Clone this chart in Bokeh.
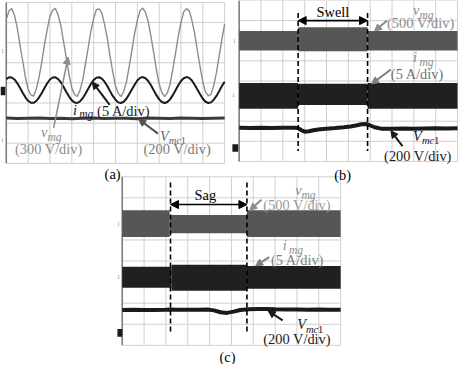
import numpy as np
from bokeh.plotting import figure
from bokeh.models import Range1d, Arrow, NormalHead
from bokeh.core.properties import value
from bokeh.embed import file_html
from bokeh.resources import INLINE

# ------------------------------------------------------------------ data
# all traces in oscilloscope divisions: time 0..10 div, amplitude -4..+4 div

# (a) steady state: v_mg (300 V/div), i_mg (5 A/div), V_mc1 (200 V/div)
a_vmg = [3.15, 3.58, 3.70, 3.36, 2.74, 1.90, 1.10, 0.28, -0.32, -0.60, -0.66,
         -0.30, 0.29, 1.03, 1.91, 2.66, 3.32, 3.62, 3.70, 3.37, 2.84, 2.03,
         1.23, 0.40, -0.24, -0.58, -0.68, -0.37, 0.15, 0.93, 1.74, 2.58, 3.20,
         3.64, 3.68, 3.47, 2.91, 2.21, 1.33, 0.55, -0.15, -0.52, -0.68, -0.43,
         0.04, 0.80, 1.60, 2.46, 3.11, 3.59, 3.72, 3.50, 3.05, 2.30, 1.50,
         0.64, -0.05, -0.49, -0.68, -0.49, -0.06, 0.67, 1.47, 2.33, 3.01,
         3.54, 3.69, 3.58, 3.11, 2.46, 1.61, 0.80, 0.04, -0.46, -0.64, -0.57,
         -0.12, 0.52, 1.36, 2.17, 2.93]
a_img = [0.19, 0.28, 0.27, 0.17, -0.01, -0.24, -0.49, -0.72, -0.89, -0.99,
         -0.99, -0.90, -0.72, -0.50, -0.25, -0.02, 0.17, 0.27, 0.28, 0.19,
         0.03, -0.20, -0.45, -0.68, -0.87, -0.98, -1.00, -0.92, -0.76, -0.54,
         -0.29, -0.05, 0.14, 0.26, 0.28, 0.21, 0.06, -0.16, -0.41, -0.65,
         -0.84, -0.97, -1.00, -0.94, -0.79, -0.57, -0.33, -0.09, 0.12, 0.25,
         0.29, 0.23, 0.09, -0.12, -0.37, -0.61, -0.82, -0.95, -1.00, -0.95,
         -0.82, -0.61, -0.37, -0.12, 0.09, 0.23, 0.29, 0.25, 0.12, -0.09,
         -0.33, -0.57, -0.79, -0.94, -1.00, -0.97, -0.84, -0.65, -0.41, -0.16,
         0.06]
a_vmc1 = [-1.75, -1.77, -1.76, -1.75, -1.77, -1.76, -1.78, -1.76, -1.75, -1.77,
          -1.76, -1.76, -1.78, -1.75, -1.76, -1.77, -1.75, -1.76, -1.77, -1.76,
          -1.75]

# (b) voltage swell between swell_t[0] and swell_t[1]
swell_t = [2.70, 5.88]
b_edges = [0.0, 2.70, 5.88, 10.0]
b_vmg_top = [2.48, 2.67, 2.48]
b_vmg_bot = [1.52, 1.48, 1.52]
b_img_top = [-0.10, -0.14, -0.10]
b_img_bot = [-1.38, -1.19, -1.38]
b_vmc1_t = [0, 0.5, 1, 1.5, 2, 2.5, 2.7, 2.85, 3.0, 3.2, 3.4, 3.7, 4.0, 4.4,
            4.8, 5.1, 5.4, 5.6, 5.8, 5.95, 6.2, 6.5, 7, 7.5, 8, 8.5, 9, 9.5, 10]
b_vmc1 = [-2.33, -2.34, -2.33, -2.34, -2.33, -2.33, -2.34, -2.45, -2.52, -2.50,
          -2.45, -2.40, -2.37, -2.34, -2.30, -2.26, -2.20, -2.15, -2.14, -2.19,
          -2.30, -2.37, -2.38, -2.36, -2.37, -2.36, -2.35, -2.36, -2.35]

# (c) voltage sag between sag_t[0] and sag_t[1]
sag_t = [2.21, 5.71]
c_vmg_edges = [0.0, 2.17, 5.71, 10.0]
c_vmg_top = [2.41, 2.18, 2.41]
c_vmg_bot = [1.14, 1.32, 1.14]
c_img_edges = [0.0, 2.26, 5.71, 10.0]
c_img_top = [-0.27, -0.18, -0.23]
c_img_bot = [-1.27, -1.41, -1.32]
c_vmc1_t = [0, 0.5, 1, 1.5, 2, 2.2, 2.5, 3, 3.5, 3.9, 4.2, 4.5, 4.8, 5.1, 5.4,
            5.8, 6.2, 6.6, 7, 7.5, 8, 8.5, 9, 9.5, 10]
c_vmc1 = [-2.32, -2.31, -2.32, -2.32, -2.31, -2.30, -2.31, -2.31, -2.31, -2.30,
          -2.34, -2.43, -2.46, -2.40, -2.32, -2.29, -2.28, -2.28, -2.29, -2.30,
          -2.30, -2.31, -2.30, -2.31, -2.31]

grid_x = list(range(0, 11))
grid_y = list(range(-4, 5))

# ------------------------------------------------------------------ layout
REF_W, REF_H = 474, 380
W, H = 458, 364
K = 0.96
SERIF = "Liberation Serif"

p = figure(width=W, height=H, x_range=Range1d(0, REF_W), y_range=Range1d(REF_H, 0),
           output_backend="svg", toolbar_location=None, x_axis_type=None,
           y_axis_type=None, min_border=0, outline_line_color=None,
           background_fill_color="white", border_fill_color="white")

# panel grid placement (left, right, top, bottom) in page units
panels = {"a": (6, 232, 2, 170), "b": (247, 473, 0, 168), "c": (126, 352, 184, 360)}
for name, (gx0, gx1, gy0, gy1) in panels.items():
    sx = (gx1 - gx0) / 10.0
    sy = (gy1 - gy0) / 8.0
    p.extra_x_ranges[name] = Range1d((0 - gx0) / sx, (REF_W - gx0) / sx)
    p.extra_y_ranges[name] = Range1d(4 - (REF_H - gy0) / sy, 4 + gy0 / sy)


def draw_grid(n):
    kw = dict(x_range_name=n, y_range_name=n)
    p.segment(x0=grid_x, y0=[-4] * len(grid_x), x1=grid_x, y1=[4] * len(grid_x),
              line_color="#cfcfcf", line_width=1, **kw)
    p.segment(x0=[0] * len(grid_y), y0=grid_y, x1=[10] * len(grid_y), y1=grid_y,
              line_color="#cfcfcf", line_width=1, **kw)
    p.segment(x0=[0], y0=[-4], x1=[0], y1=[4], line_color="#7a7a7a", line_width=1.5, **kw)


for n in panels:
    draw_grid(n)

# ---- traces (a)
a_t = np.linspace(0, 10, len(a_vmg))
a_t2 = np.linspace(0, 10, len(a_vmc1))
p.line(a_t, a_vmg, x_range_name="a", y_range_name="a", line_color="#8c8c8c", line_width=1.4)
p.line(a_t, a_img, x_range_name="a", y_range_name="a", line_color="#1a1a1a", line_width=2)
p.line(a_t2, a_vmc1, x_range_name="a", y_range_name="a", line_color="#3a3a3a", line_width=3)

# ---- traces (b)
p.quad(left=b_edges[:-1], right=b_edges[1:], top=b_vmg_top, bottom=b_vmg_bot,
       x_range_name="b", y_range_name="b", fill_color="#565656", line_color=None)
p.quad(left=b_edges[:-1], right=b_edges[1:], top=b_img_top, bottom=b_img_bot,
       x_range_name="b", y_range_name="b", fill_color="#202020", line_color=None)
p.line(b_vmc1_t, b_vmc1, x_range_name="b", y_range_name="b", line_color="#1a1a1a", line_width=4)

# ---- traces (c)
p.quad(left=c_vmg_edges[:-1], right=c_vmg_edges[1:], top=c_vmg_top, bottom=c_vmg_bot,
       x_range_name="c", y_range_name="c", fill_color="#565656", line_color=None)
p.quad(left=c_img_edges[:-1], right=c_img_edges[1:], top=c_img_top, bottom=c_img_bot,
       x_range_name="c", y_range_name="c", fill_color="#202020", line_color=None)
p.line(c_vmc1_t, c_vmc1, x_range_name="c", y_range_name="c", line_color="#1a1a1a", line_width=4)

# ---- event markers (dashed lines + double arrows)
for n, ev, y0, y1, ya in (("b", swell_t, 3.38, -3.48, 3.0), ("c", sag_t, 3.73, -3.45, 2.68)):
    p.segment(x0=ev, y0=[y0, y0], x1=ev, y1=[y1, y1], x_range_name=n, y_range_name=n,
              line_color="black", line_width=1.6, line_dash="5 3")
    p.add_layout(Arrow(start=NormalHead(size=8, fill_color="black", line_color="black"),
                       end=NormalHead(size=8, fill_color="black", line_color="black"),
                       x_start=ev[0], x_end=ev[1], y_start=ya, y_end=ya,
                       line_color="black", line_width=1.6, x_range_name=n, y_range_name=n))


# ------------------------------------------------------------------ text
def txt(x, y, s, color="black", size=15, italic=False, align="left"):
    p.text(x=[x], y=[y], text=[s], text_color=color, text_font=value(SERIF),
           text_font_size=f"{size * K:.1f}px",
           text_font_style="italic" if italic else "normal",
           text_align=align, text_baseline="middle")


def sub_label(x, y, main, sub, color, tail="", size=15, subsize=12):
    txt(x, y, main, color, size, italic=True)
    xs = x + 0.58 * size * (1.05 if main == "V" else 0.75)
    txt(xs, y + 5, sub, color, subsize, italic=True)
    if tail:
        txt(xs + 0.6 * subsize * len(sub) * 0.95, y + 5, tail, color, subsize)


def arrow(x0, y0, x1, y1, color, w=1.8):
    p.add_layout(Arrow(end=NormalHead(size=7, fill_color=color, line_color=color),
                       x_start=x0, y_start=y0, x_end=x1, y_end=y1,
                       line_color=color, line_width=w))


# panel (a)
sub_label(42, 137, "v", "mg", "#8c8c8c")
txt(15, 155, "(300 V/div)", "#8c8c8c")
arrow(55, 133, 70, 59, "#8c8c8c", 1.5)
sub_label(75, 114, "i", "mg", "#1a1a1a")
txt(100, 115, "(5 A/div)", "#1a1a1a")
arrow(113, 109, 95, 85, "#1a1a1a", 2)
sub_label(165, 141, "V", "mc", "#6a6a6a", "1", subsize=11)
txt(148, 155, "(200 V/div)", "#7a7a7a")
arrow(163, 139, 143, 124, "#505050", 2)
txt(116, 181, "(a)", "black", align="center")

# panel (b)
txt(344, 12, "Swell", "black", align="center")
sub_label(427, 10, "v", "mg", "#8c8c8c")
txt(400, 24, "(500 V/div)", "#8c8c8c")
arrow(400, 21, 387, 32, "#8c8c8c", 2)
sub_label(427, 59, "i", "mg", "#8c8c8c")
txt(404, 77, "(5 A/div)", "#707070")
arrow(404, 72, 384, 87, "#808080", 2)
sub_label(427, 141, "V", "mc", "#1a1a1a", "1", subsize=11)
txt(397, 162, "(200 V/div)", "#1a1a1a")
arrow(416, 152, 404, 136, "#1a1a1a", 2)
txt(354, 182, "(b)", "black", align="center")

# panel (c)
txt(212, 203, "Sag", "black", align="center")
sub_label(305, 198, "v", "mg", "#8c8c8c")
txt(272, 213, "(500 V/div)", "#9a9a9a")
arrow(270, 208, 258, 219, "#8c8c8c", 2)
sub_label(292, 255, "i", "mg", "#8c8c8c")
txt(280, 271, "(5 A/div)", "#808080")
arrow(278, 268, 264, 277, "#808080", 2)
sub_label(307, 338, "V", "mc", "#1a1a1a", "1", subsize=11)
txt(272, 353, "(200 V/div)", "#1a1a1a")
arrow(292, 334, 277, 324, "#1a1a1a", 2)
txt(235, 372, "(c)", "black", align="center")

# scope channel markers
p.quad(left=[0, 240, 121], right=[5, 246, 126], top=[90, 150, 343], bottom=[99, 158, 351],
       fill_color="#1a1a1a", line_color=None)
for (mx, my) in ((2, 53), (2, 146), (242, 42), (241, 99), (122, 233), (122, 289)):
    txt(mx, my, "1", "#9a9a9a", 7, align="center")

open("out.html", "w").write(file_html(p, INLINE))
